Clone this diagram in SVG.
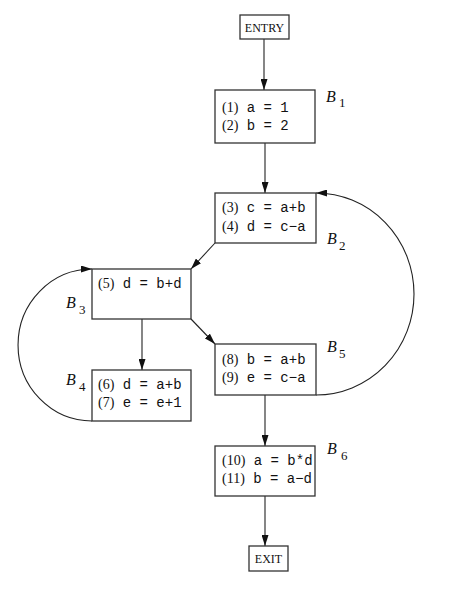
<svg xmlns="http://www.w3.org/2000/svg" width="458" height="594" viewBox="0 0 458 594">
<defs>
<marker id="ah" markerUnits="userSpaceOnUse" markerWidth="11" markerHeight="7" refX="11" refY="3.5" orient="auto">
<path d="M0,0 L11,3.5 L0,7 z" fill="#111"/>
</marker>
<style>
.box{fill:#fff;stroke:#333;stroke-width:1.3}
.edge{fill:none;stroke:#222;stroke-width:1.1;marker-end:url(#ah)}
.t{font-family:"Liberation Serif",serif;font-size:14px;fill:#111}
.m{font-family:"Liberation Mono",monospace;font-size:14px}
.term{font-family:"Liberation Serif",serif;font-size:12px;fill:#111}
.lb{font-family:"Liberation Serif",serif;font-size:16px;font-style:italic;fill:#111}
.sb{font-family:"Liberation Serif",serif;font-size:13px;fill:#111}
</style>
</defs>
<rect width="458" height="594" fill="#fff"/>
<g id="connectors">
<path class="edge" d="M264,39 L264,90"/>
<path class="edge" d="M265,143 L265,193"/>
<path class="edge" d="M215,243 L191,269"/>
<path class="edge" d="M191,319 L215,344"/>
<path class="edge" d="M142,319 L142,370"/>
<path class="edge" d="M265,395 L265,446"/>
<path class="edge" d="M265,496 L265,546"/>
<path class="edge" d="M316,395 A98,101 0 0 0 316,193"/>
<path class="edge" d="M92,421 A74,76 0 0 1 92,269"/>
</g>
<g id="entry">
<rect class="box" x="240" y="15" width="49" height="24"/>
<text class="term" x="264.5" y="32" text-anchor="middle">ENTRY</text>
</g>
<g id="B1">
<rect class="box" x="215" y="90" width="100" height="53"/>
<text class="t" x="222" y="112">(1)<tspan class="m"> a = 1</tspan></text>
<text class="t" x="222" y="130">(2)<tspan class="m"> b = 2</tspan></text>
<text class="lb" x="326" y="102">B</text><text class="sb" x="339" y="107">1</text>
</g>
<g id="B2">
<rect class="box" x="215" y="193" width="101" height="50"/>
<text class="t" x="222" y="212">(3)<tspan class="m"> c = a+b</tspan></text>
<text class="t" x="222" y="231">(4)<tspan class="m"> d = c−a</tspan></text>
<text class="lb" x="327" y="244">B</text><text class="sb" x="339" y="250">2</text>
</g>
<g id="B3">
<rect class="box" x="92" y="269" width="99" height="50"/>
<text class="t" x="98" y="288">(5)<tspan class="m"> d = b+d</tspan></text>
<text class="lb" x="66" y="308">B</text><text class="sb" x="79" y="314">3</text>
</g>
<g id="B4">
<rect class="box" x="92" y="370" width="99" height="51"/>
<text class="t" x="98" y="389">(6)<tspan class="m"> d = a+b</tspan></text>
<text class="t" x="98" y="407">(7)<tspan class="m"> e = e+1</tspan></text>
<text class="lb" x="66" y="385">B</text><text class="sb" x="79" y="391">4</text>
</g>
<g id="B5">
<rect class="box" x="215" y="344" width="101" height="51"/>
<text class="t" x="222" y="364">(8)<tspan class="m"> b = a+b</tspan></text>
<text class="t" x="222" y="382">(9)<tspan class="m"> e = c−a</tspan></text>
<text class="lb" x="327" y="352">B</text><text class="sb" x="339" y="358">5</text>
</g>
<g id="B6">
<rect class="box" x="215" y="446" width="100" height="50"/>
<text class="t" x="222" y="465">(10)<tspan class="m"> a = b*d</tspan></text>
<text class="t" x="222" y="483">(11)<tspan class="m"> b = a−d</tspan></text>
<text class="lb" x="327" y="454">B</text><text class="sb" x="341" y="460">6</text>
</g>
<g id="exit">
<rect class="box" x="249" y="546" width="39" height="25"/>
<text class="term" x="268.5" y="563" text-anchor="middle">EXIT</text>
</g>
</svg>
